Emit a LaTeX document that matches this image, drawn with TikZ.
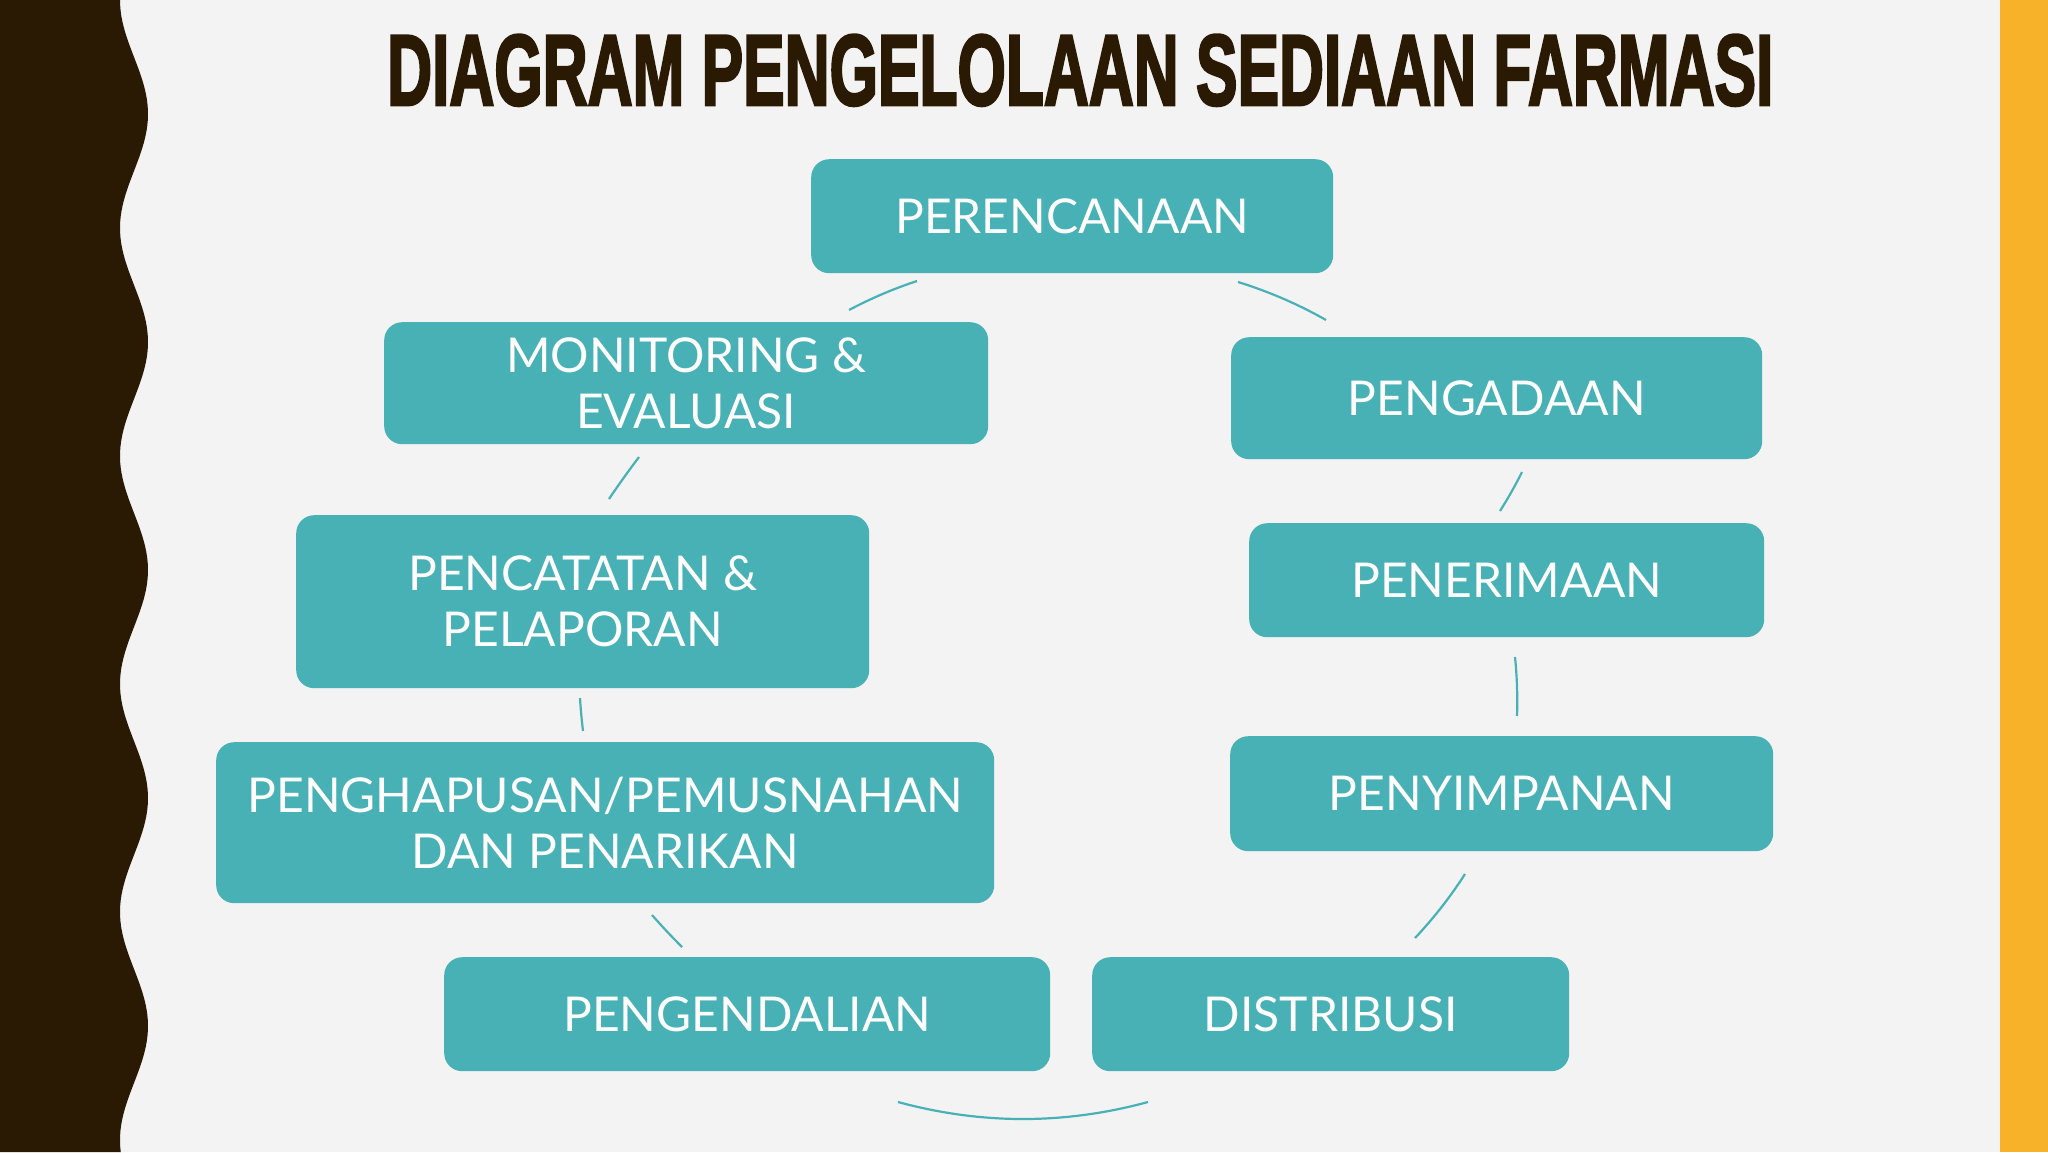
\documentclass[tikz,border=0pt]{standalone}
\usepackage{graphicx}
\usepackage{fontspec}
\usetikzlibrary{calc}
\setmainfont{Lato}
\newfontfamily\labelfont{Lato}
\newfontfamily\titlefont{Liberation Sans}[FakeBold=3]
\definecolor{bgcol}{HTML}{F3F3F3}
\definecolor{darkcol}{HTML}{2A1A03}
\definecolor{yellowcol}{HTML}{F8B229}
\definecolor{tealcol}{HTML}{47B1B5}
\tikzset{
  stepbox/.style={fill=tealcol, rounded corners=18pt, anchor=north west, inner sep=0pt,
    text=white, align=center, font=\labelfont\fontsize{48}{56}\selectfont},
  conn/.style={draw=tealcol, line width=2.2pt}
}
\newcommand{\arcseg}[3]{\draw[conn] (#1) .. controls ($(#1)!0.6667!(#2)$) and ($(#3)!0.6667!(#2)$) .. (#3);}
\begin{document}
\begin{tikzpicture}[x=1pt,y=-1pt]
\useasboundingbox (0,0) rectangle (2048,1152);
\fill[bgcol] (0,0) rectangle (2048,1152);
\fill[darkcol] (0,0) -- plot[domain=0:1152, samples=220, variable=\t] ({134-14*cos(\t*1.578947)},{\t}) -- (0,1152) -- cycle;
\fill[yellowcol] (2000,0) rectangle (2048,1152);

\node[anchor=south west, inner sep=0pt, text=darkcol] (title) at (387,106)
  {\resizebox{1386pt}{70pt}{\titlefont\bfseries DIAGRAM PENGELOLAAN SEDIAAN FARMASI}};

\node[stepbox, minimum width=522pt, minimum height=114pt] (per) at (811,159) {PERENCANAAN};
\node[stepbox, minimum width=604pt, minimum height=122pt] (mon) at (384,322) {MONITORING \&\\EVALUASI};
\node[stepbox, minimum width=531pt, minimum height=122pt] (pga) at (1231,337) {PENGADAAN};
\node[stepbox, minimum width=573pt, minimum height=173pt] (pct) at (296,515) {PENCATATAN \&\\PELAPORAN};
\node[stepbox, minimum width=515pt, minimum height=114pt] (pnr) at (1249,523) {PENERIMAAN};
\node[stepbox, minimum width=778pt, minimum height=161pt] (phs) at (216,742) {PENGHAPUSAN/PEMUSNAHAN\\DAN PENARIKAN};
\node[stepbox, minimum width=543pt, minimum height=115pt] (pys) at (1230,736) {PENYIMPANAN};
\node[stepbox, minimum width=606pt, minimum height=114pt] (pgd) at (444,957) {PENGENDALIAN};
\node[stepbox, minimum width=477pt, minimum height=114pt] (dis) at (1092,957) {DISTRIBUSI};

\coordinate (a1) at (849,310); \coordinate (c1) at (881.8,292.6); \coordinate (b1) at (917,281);
\coordinate (a2) at (1238,282); \coordinate (c2) at (1284,296.2); \coordinate (b2) at (1326,320);
\coordinate (a3) at (1522,472); \coordinate (c3) at (1512,492); \coordinate (b3) at (1500,511);
\coordinate (a4) at (1515,657); \coordinate (c4) at (1518,686.5); \coordinate (b4) at (1517,716);
\coordinate (a5) at (1465,874); \coordinate (c5) at (1443,908.3); \coordinate (b5) at (1415,938);
\coordinate (a6) at (1148,1102); \coordinate (c6) at (1023,1136); \coordinate (b6) at (898,1102);
\coordinate (a7) at (682,947); \coordinate (c7) at (666.5,931.5); \coordinate (b7) at (652,915);
\coordinate (a8) at (583,731); \coordinate (c8) at (581,714.5); \coordinate (b8) at (580,698);
\coordinate (a9) at (609,499); \coordinate (c9) at (623.5,477.5); \coordinate (b9) at (639,457);

\arcseg{a1}{c1}{b1}
\arcseg{a2}{c2}{b2}
\arcseg{a3}{c3}{b3}
\arcseg{a4}{c4}{b4}
\arcseg{a5}{c5}{b5}
\arcseg{a6}{c6}{b6}
\arcseg{a7}{c7}{b7}
\arcseg{a8}{c8}{b8}
\arcseg{a9}{c9}{b9}
\end{tikzpicture}
\end{document}
